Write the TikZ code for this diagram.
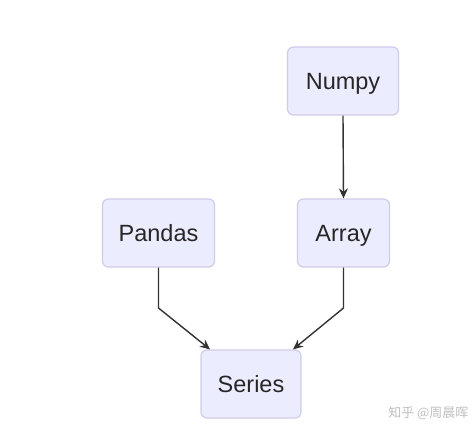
\documentclass[tikz,border=0pt]{standalone}
\usepackage{fontspec}
\setmainfont{Liberation Sans}
\newfontfamily\cjk{Noto Sans CJK SC}
\usetikzlibrary{arrows.meta}
\definecolor{boxfill}{HTML}{ECECFF}
\definecolor{boxline}{HTML}{CFCBEA}
\definecolor{edgecol}{HTML}{333333}
\tikzset{
  box/.style={draw=boxline, fill=boxfill, line width=1.2pt, rounded corners=6pt,
    font=\fontsize{23.5}{26}\selectfont, text=black!85, inner sep=0pt,
    text height=16.8pt, text depth=0pt},
  edge/.style={draw=edgecol, line width=1.4pt, -{Stealth[length=10pt,width=9pt]}}
}
\begin{document}
\begin{tikzpicture}[x=1pt,y=1pt]
\useasboundingbox (0,0) rectangle (474,-437);
\node[box, minimum width=111pt, minimum height=68pt] (numpy) at (343,-81) {Numpy};
\node[box, minimum width=112pt, minimum height=68pt] (pandas) at (158.5,-233) {Pandas};
\node[box, minimum width=92pt, minimum height=68pt] (array) at (343.5,-233) {Array};
\node[box, minimum width=100pt, minimum height=68pt] (series) at (251,-384) {Series};
\coordinate (pb) at (158.5,-308);
\coordinate (ab) at (343.5,-308);
\draw[edge] (numpy.south) -- (array.north);
\draw[edge] (pandas.south) -- (pb) -- (series.north west -| 210,0) ;
\draw[edge] (array.south) -- (ab) -- (series.north east -| 293,0);
\node[font=\cjk\fontsize{13}{15}\selectfont, text=black!25, anchor=east] (wm) at (472,-413) {知乎 @周晨晖};
\end{tikzpicture}
\end{document}
